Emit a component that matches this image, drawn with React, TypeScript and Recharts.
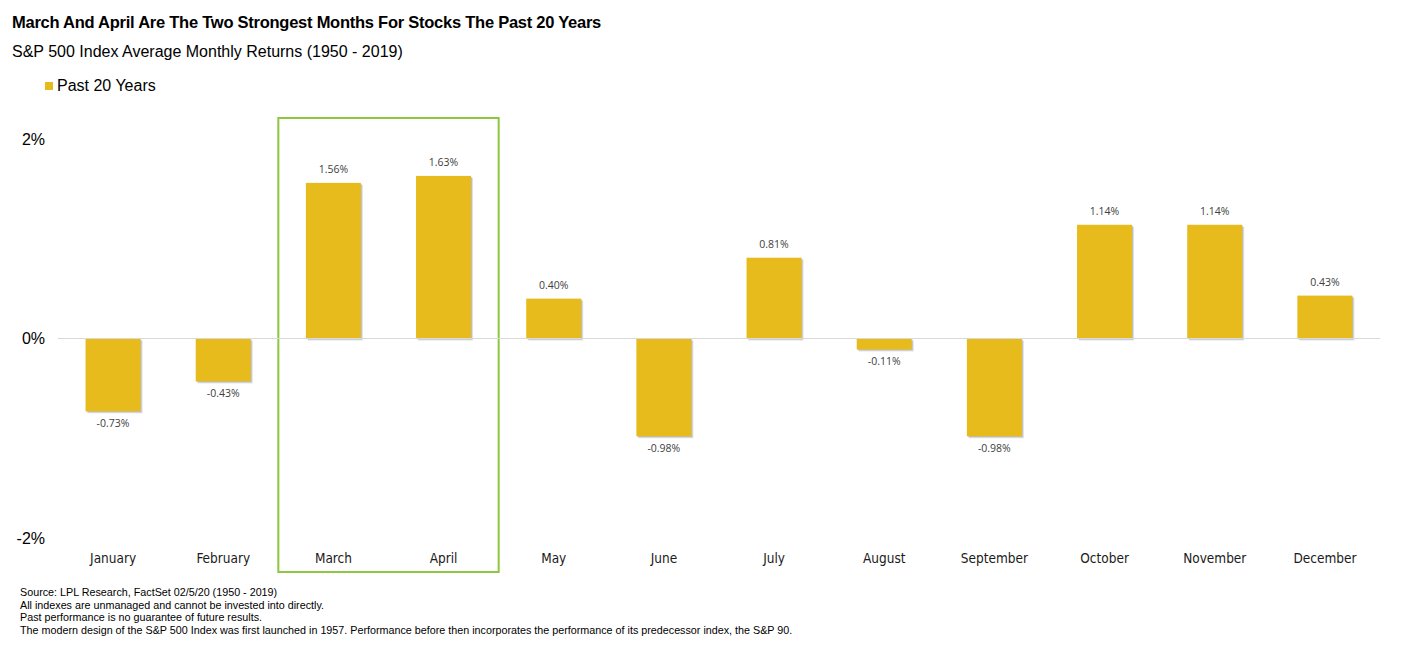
import React from 'react'
import { BarChart, Bar, XAxis, YAxis, ReferenceLine, ReferenceArea, LabelList } from 'recharts'

const months = ['January', 'February', 'March', 'April', 'May', 'June', 'July', 'August', 'September', 'October', 'November', 'December']
const past20Years = [-0.73, -0.43, 1.56, 1.63, 0.4, -0.98, 0.81, -0.11, -0.98, 1.14, 1.14, 0.43]
const yTicks = [-2, 0, 2]
const footnotes = [
    'Source: LPL Research, FactSet 02/5/20  (1950 - 2019)',
    'All indexes are unmanaged and cannot be invested into directly.',
    'Past performance is no guarantee of future results.',
    'The modern design of the S&P 500 Index was first launched in 1957. Performance before then incorporates the performance of its  predecessor index, the S&P 90.',
]

const data = months.map((month, i) => ({ month, ret: past20Years[i] }))

const GOLD = '#e8bb1c'
const GREEN = '#8dc63f'

// bar with a soft grey shadow to the lower right, like the office chart
function ShadowBar(props: any) {
    const x = Number(props.x)
    const y = Number(props.y)
    const width = Number(props.width)
    const height = Number(props.height)
    const top = Math.min(y, y + height)
    const h = Math.abs(height)
    return (
        <g>
            <rect x={x + 2} y={top + 2} width={width} height={h} fill="#000" opacity={0.12} />
            <rect x={x + 1} y={top + 1} width={width} height={h} fill="#000" opacity={0.15} />
            <rect x={x} y={top} width={width} height={h} fill={GOLD} />
        </g>
    )
}

function ValueLabel(props: any) {
    const x = Number(props.x)
    const y = Number(props.y)
    const width = Number(props.width)
    const height = Number(props.height)
    const value = Number(props.value)
    const top = Math.min(y, y + height)
    const bottom = Math.max(y, y + height)
    const ty = value >= 0 ? top - 10 : bottom + 16
    return (
        <text x={x + width / 2} y={ty} textAnchor="middle" fontSize={10.5} fill="#404040" fontFamily="'Open Sans', sans-serif">
            {value.toFixed(2)}%
        </text>
    )
}

export default function App() {
    return (
        <div style={{ position: 'absolute', left: 0, top: 0, width: 1410, height: 651, background: '#fff', fontFamily: "'Liberation Sans', Arial, sans-serif", color: '#000' }}>
            <div style={{ position: 'absolute', left: 12, top: 13, fontSize: 16.5, fontWeight: 'bold', letterSpacing: -0.25, whiteSpace: 'nowrap' }}>
                March And April Are The Two Strongest Months For Stocks The Past 20 Years
            </div>
            <div style={{ position: 'absolute', left: 12, top: 43, fontSize: 16, whiteSpace: 'nowrap' }}>
                S&amp;P 500 Index Average Monthly Returns (1950 - 2019)
            </div>
            <div style={{ position: 'absolute', left: 45, top: 77, fontSize: 16, whiteSpace: 'nowrap', display: 'flex', alignItems: 'center' }}>
                <span style={{ display: 'inline-block', width: 8, height: 8, background: GOLD, marginRight: 4 }} />
                Past 20 Years
            </div>

            <div style={{ position: 'absolute', left: 0, top: 0 }}>
                <BarChart width={1410} height={600} data={data} margin={{ top: 139, right: 30, bottom: 32, left: 8 }} barCategoryGap="25%">
                    <XAxis
                        dataKey="month"
                        axisLine={false}
                        tickLine={false}
                        tickMargin={9}
                        height={30}
                        interval={0}
                        tick={{ fill: '#1a1a1a', fontSize: 13.5, fontFamily: "'DejaVu Sans Condensed', 'DejaVu Sans', sans-serif" }}
                    />
                    <YAxis
                        domain={[-2, 2]}
                        ticks={yTicks}
                        width={50}
                        axisLine={false}
                        tickLine={false}
                        tickMargin={7}
                        tickFormatter={(v: number) => `${v}%`}
                        tick={{ fill: '#000', fontSize: 16, fontFamily: "'Liberation Sans', Arial, sans-serif" }}
                    />
                    <ReferenceLine y={0} stroke="#d9d9d9" strokeWidth={1} />
                    <Bar dataKey="ret" fill={GOLD} shape={ShadowBar} isAnimationActive={false}>
                        <LabelList dataKey="ret" content={ValueLabel} />
                    </Bar>
                    <ReferenceArea x1="March" x2="April" y1={2.21} y2={-2.34} ifOverflow="visible" fill="none" stroke={GREEN} strokeWidth={2} />
                </BarChart>
            </div>

            <div style={{ position: 'absolute', left: 20, top: 586, fontSize: 10.75, lineHeight: '12.5px', color: '#000', whiteSpace: 'nowrap' }}>
                {footnotes.map((line) => (
                    <div key={line}>{line}</div>
                ))}
            </div>
        </div>
    )
}
